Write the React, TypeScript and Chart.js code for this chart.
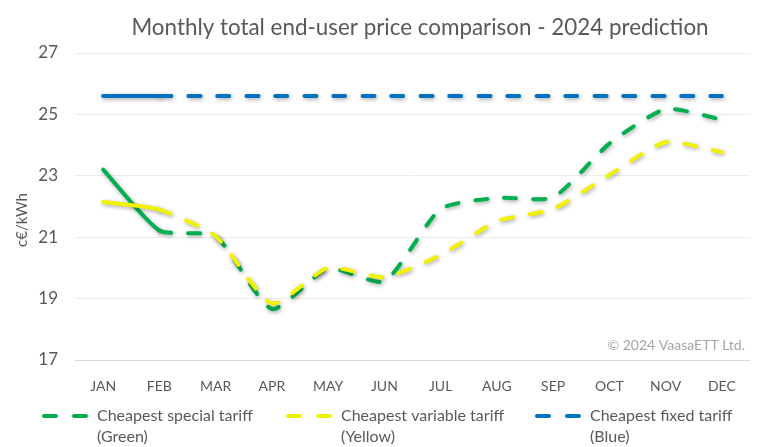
import React, { useEffect, useRef } from "react";
import { Chart, registerables } from "chart.js";

Chart.register(...registerables);

const months = ["JAN", "FEB", "MAR", "APR", "MAY", "JUN", "JUL", "AUG", "SEP", "OCT", "NOV", "DEC"];
const greenValues = [23.2, 21.22, 21.03, 18.66, 19.98, 19.56, 21.92, 22.28, 22.3, 24.05, 25.17, 24.83];
const yellowValues = [22.15, 21.9, 21.03, 18.84, 20.0, 19.7, 20.42, 21.52, 21.92, 23.03, 24.1, 23.77];
const blueValues = [25.6, 25.6, 25.6, 25.6, 25.6, 25.6, 25.6, 25.6, 25.6, 25.6, 25.6, 25.6];
const yTicks = [17, 19, 21, 23, 25, 27];
const seriesNames = ["Cheapest special tariff", "Cheapest variable tariff", "Cheapest fixed tariff"];
const seriesSubNames = ["(Green)", "(Yellow)", "(Blue)"];
const seriesColors = ["#00b050", "#f2f200", "#0070c0"];

const titleText = "Monthly total end-user price comparison - 2024 prediction";
const yAxisTitle = "c€/kWh";
const watermark = "© 2024 VaasaETT Ltd.";

const FONT = "Lato, 'Open Sans', sans-serif";
const TEXT = "#595959";
const DASH = [12, 17];

const shadowPlugin = {
  id: "lineShadow",
  beforeDatasetDraw(chart: any) {
    const c = chart.ctx;
    c.save();
    c.shadowColor = "rgba(0,0,0,0.35)";
    c.shadowBlur = 4;
    c.shadowOffsetX = 1;
    c.shadowOffsetY = 1.5;
  },
  afterDatasetDraw(chart: any) {
    chart.ctx.restore();
  },
};

const decorPlugin = {
  id: "decor",
  afterDraw(chart: any) {
    const c = chart.ctx;
    c.save();
    // title
    c.fillStyle = TEXT;
    c.font = `22.4px ${FONT}`;
    c.textAlign = "center";
    c.textBaseline = "middle";
    c.fillText(titleText, 420, 28);

    // y-axis title
    c.save();
    c.translate(22, 220);
    c.rotate(-Math.PI / 2);
    c.font = `15px ${FONT}`;
    c.fillText(yAxisTitle, 0, 0);
    c.restore();

    // watermark
    c.fillStyle = "#a6a6a6";
    c.font = `14px ${FONT}`;
    c.textAlign = "right";
    c.fillText(watermark, 745, 345);

    // legend
    const xs = [42, 286, 535];
    c.textAlign = "left";
    c.font = `16px ${FONT}`;
    for (let i = 0; i < 3; i++) {
      const x = xs[i];
      c.strokeStyle = seriesColors[i];
      c.lineWidth = 4;
      c.lineCap = "round";
      c.beginPath();
      c.moveTo(x + 2, 416);
      c.lineTo(x + 14, 416);
      c.moveTo(x + 32, 416);
      c.lineTo(x + 44, 416);
      c.stroke();
      c.fillStyle = TEXT;
      c.fillText(seriesNames[i], x + 55, 416);
      c.fillText(seriesSubNames[i], x + 55, 437);
    }
    c.restore();
  },
};

export default function App() {
  const ref = useRef<HTMLCanvasElement>(null);

  useEffect(() => {
    if (!ref.current) return;
    const seg = (ctx: any) => (ctx.p0DataIndex >= 1 ? DASH : undefined);
    const mk = (label: string, data: number[], color: string, order: number) => ({
      label,
      data,
      borderColor: color,
      backgroundColor: color,
      borderWidth: 4,
      borderCapStyle: "round" as const,
      borderJoinStyle: "round" as const,
      pointRadius: 0,
      pointHoverRadius: 0,
      tension: 0.2,
      fill: false,
      order,
      segment: { borderDash: seg },
    });
    const chart = new Chart(ref.current, {
      type: "line",
      data: {
        labels: months,
        datasets: [
          mk(seriesNames[0], greenValues, seriesColors[0], 1),
          mk(seriesNames[1], yellowValues, seriesColors[1], 0),
          mk(seriesNames[2], blueValues, seriesColors[2], 2),
        ],
      },
      options: {
        responsive: false,
        animation: false,
        layout: { padding: { top: 53, right: 18, left: 0, bottom: 0 } },
        plugins: {
          legend: { display: false },
          title: { display: false },
          tooltip: { enabled: false },
        },
        scales: {
          x: {
            offset: true,
            grid: { display: false },
            border: { display: false },
            ticks: {
              color: TEXT,
              font: { family: FONT, size: 14 },
              padding: 10,
              maxRotation: 0,
              autoSkip: false,
            },
            afterFit(scale: any) {
              scale.height = 87;
            },
          },
          y: {
            min: 17,
            max: 27,
            afterBuildTicks(scale: any) {
              scale.ticks = yTicks.map((v) => ({ value: v }));
            },
            grid: {
              drawTicks: false,
              color: (ctx: any) => (ctx.tick && ctx.tick.value === 17 ? "#d9d9d9" : "#ececec"),
              lineWidth: 1,
            },
            border: { display: false },
            ticks: {
              color: TEXT,
              font: { family: FONT, size: 17 },
              padding: 17,
            },
            afterFit(scale: any) {
              scale.width = 75;
            },
          },
        },
      },
      plugins: [shadowPlugin, decorPlugin],
    });
    return () => chart.destroy();
  }, []);

  return (
    <div style={{ position: "absolute", left: 0, top: 0, width: 768, height: 447, background: "#fff" }}>
      <canvas ref={ref} width={768} height={447} style={{ display: "block", width: 768, height: 447 }} />
    </div>
  );
}
